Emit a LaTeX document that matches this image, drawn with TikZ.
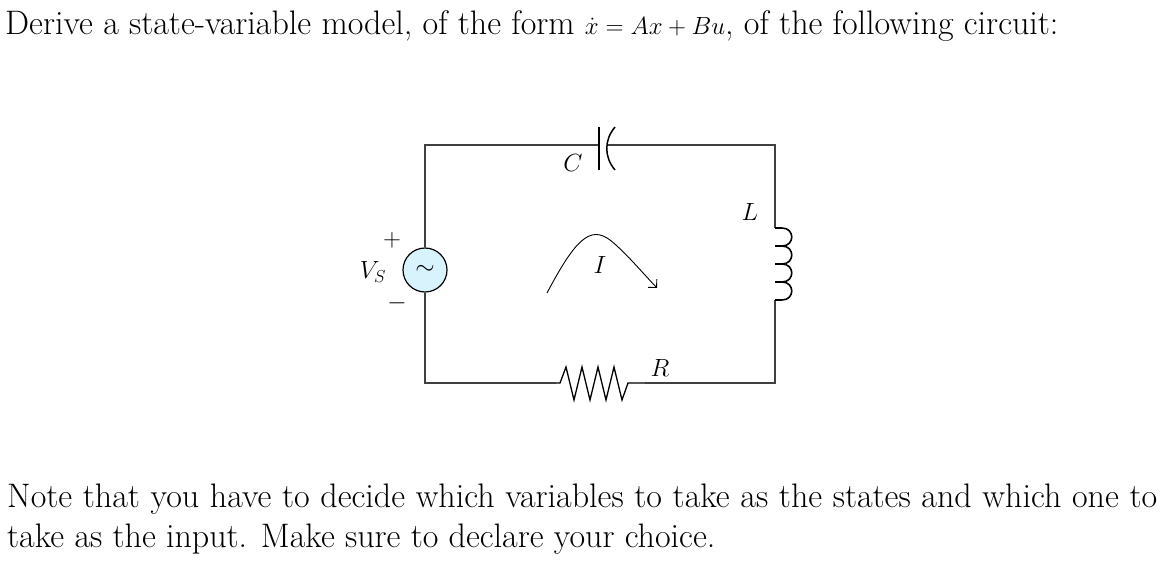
\documentclass[tikz,border=0pt]{standalone}
\usetikzlibrary{arrows.meta}
\begin{document}
\begin{tikzpicture}[x=1pt,y=-1pt,
  wire/.style={draw=black!75,line width=1.2pt},
  lbl/.style={font=\fontsize{25}{28}\selectfont,inner sep=0pt},
  txt/.style={font=\fontsize{34}{40}\selectfont,inner sep=0pt,anchor=west}]
\useasboundingbox[fill=white] (0,0) rectangle (1167,567);
\node[txt] (t1) at (5,26) {Derive a state-variable model, of the form $\dot x = Ax + Bu$, of the following circuit:};
\node[txt,text width=1150pt,align=justify,anchor=north west] (t2) at (7,484) {Note that you have to decide which variables to take as the states and which one to take as the input. Make sure to declare your choice.};
\coordinate (tl) at (425,145); \coordinate (tr) at (775,145);
\coordinate (bl) at (425,383); \coordinate (br) at (775,383);
\node[circle,draw=black,line width=1.2pt,fill=cyan!15,minimum size=44pt,inner sep=0pt] (vs) at (425,270) {\fontsize{24}{24}\selectfont$\sim$};
\coordinate (c1) at (599,145); \coordinate (c2) at (608,145);
\coordinate (l1) at (775,228); \coordinate (l2) at (775,300);
\coordinate (r1) at (556,383); \coordinate (r2) at (645,383);
\draw[wire] (vs.north) -- (tl) -- (c1);
\draw[wire] (c2) -- (tr) -- (l1);
\draw[wire] (l2) -- (br) -- (r2);
\draw[wire] (r1) -- (bl) -- (vs.south);
% capacitor
\draw[line width=1.5pt] (599,127) -- (599,170);
\draw[line width=1.5pt] (615,127) .. controls (604,140) and (604,157) .. (615,170);
% inductor
\foreach \i in {0,1,2,3} {
  \draw[line width=1.6pt] (775,228+18*\i) -- (782,228+18*\i) .. controls (795,228+18*\i) and (795,246+18*\i) .. (782,246+18*\i) -- (775,246+18*\i);
}
% resistor
\draw[line width=1.3pt] (r1) -- (560,383) -- (566,367) -- (574,400) -- (582,367) -- (590,400) -- (598,367) -- (606,400) -- (614,367) -- (622,400) -- (628,383) -- (r2);
% labels
\node[lbl] (lc) at (573,163) {$C$};
\node[lbl] (ll) at (750,212) {$L$};
\node[lbl] (lr) at (660,368) {$R$};
\node[lbl] (li) at (600,265) {$I$};
\node[lbl] (lv) at (373,272) {$V_S$};
\node[lbl] (lp) at (392,240) {$+$};
\node[lbl] (lm) at (397,303) {$-$};
\coordinate (a1) at (547,293); \coordinate (a2) at (657,288);
\draw[line width=0.9pt,-{Straight Barb[length=6pt]}] (a1) .. controls (575,240) and (590,225) .. (610,240) .. controls (625,252) and (640,270) .. (a2);
\end{tikzpicture}
\end{document}
